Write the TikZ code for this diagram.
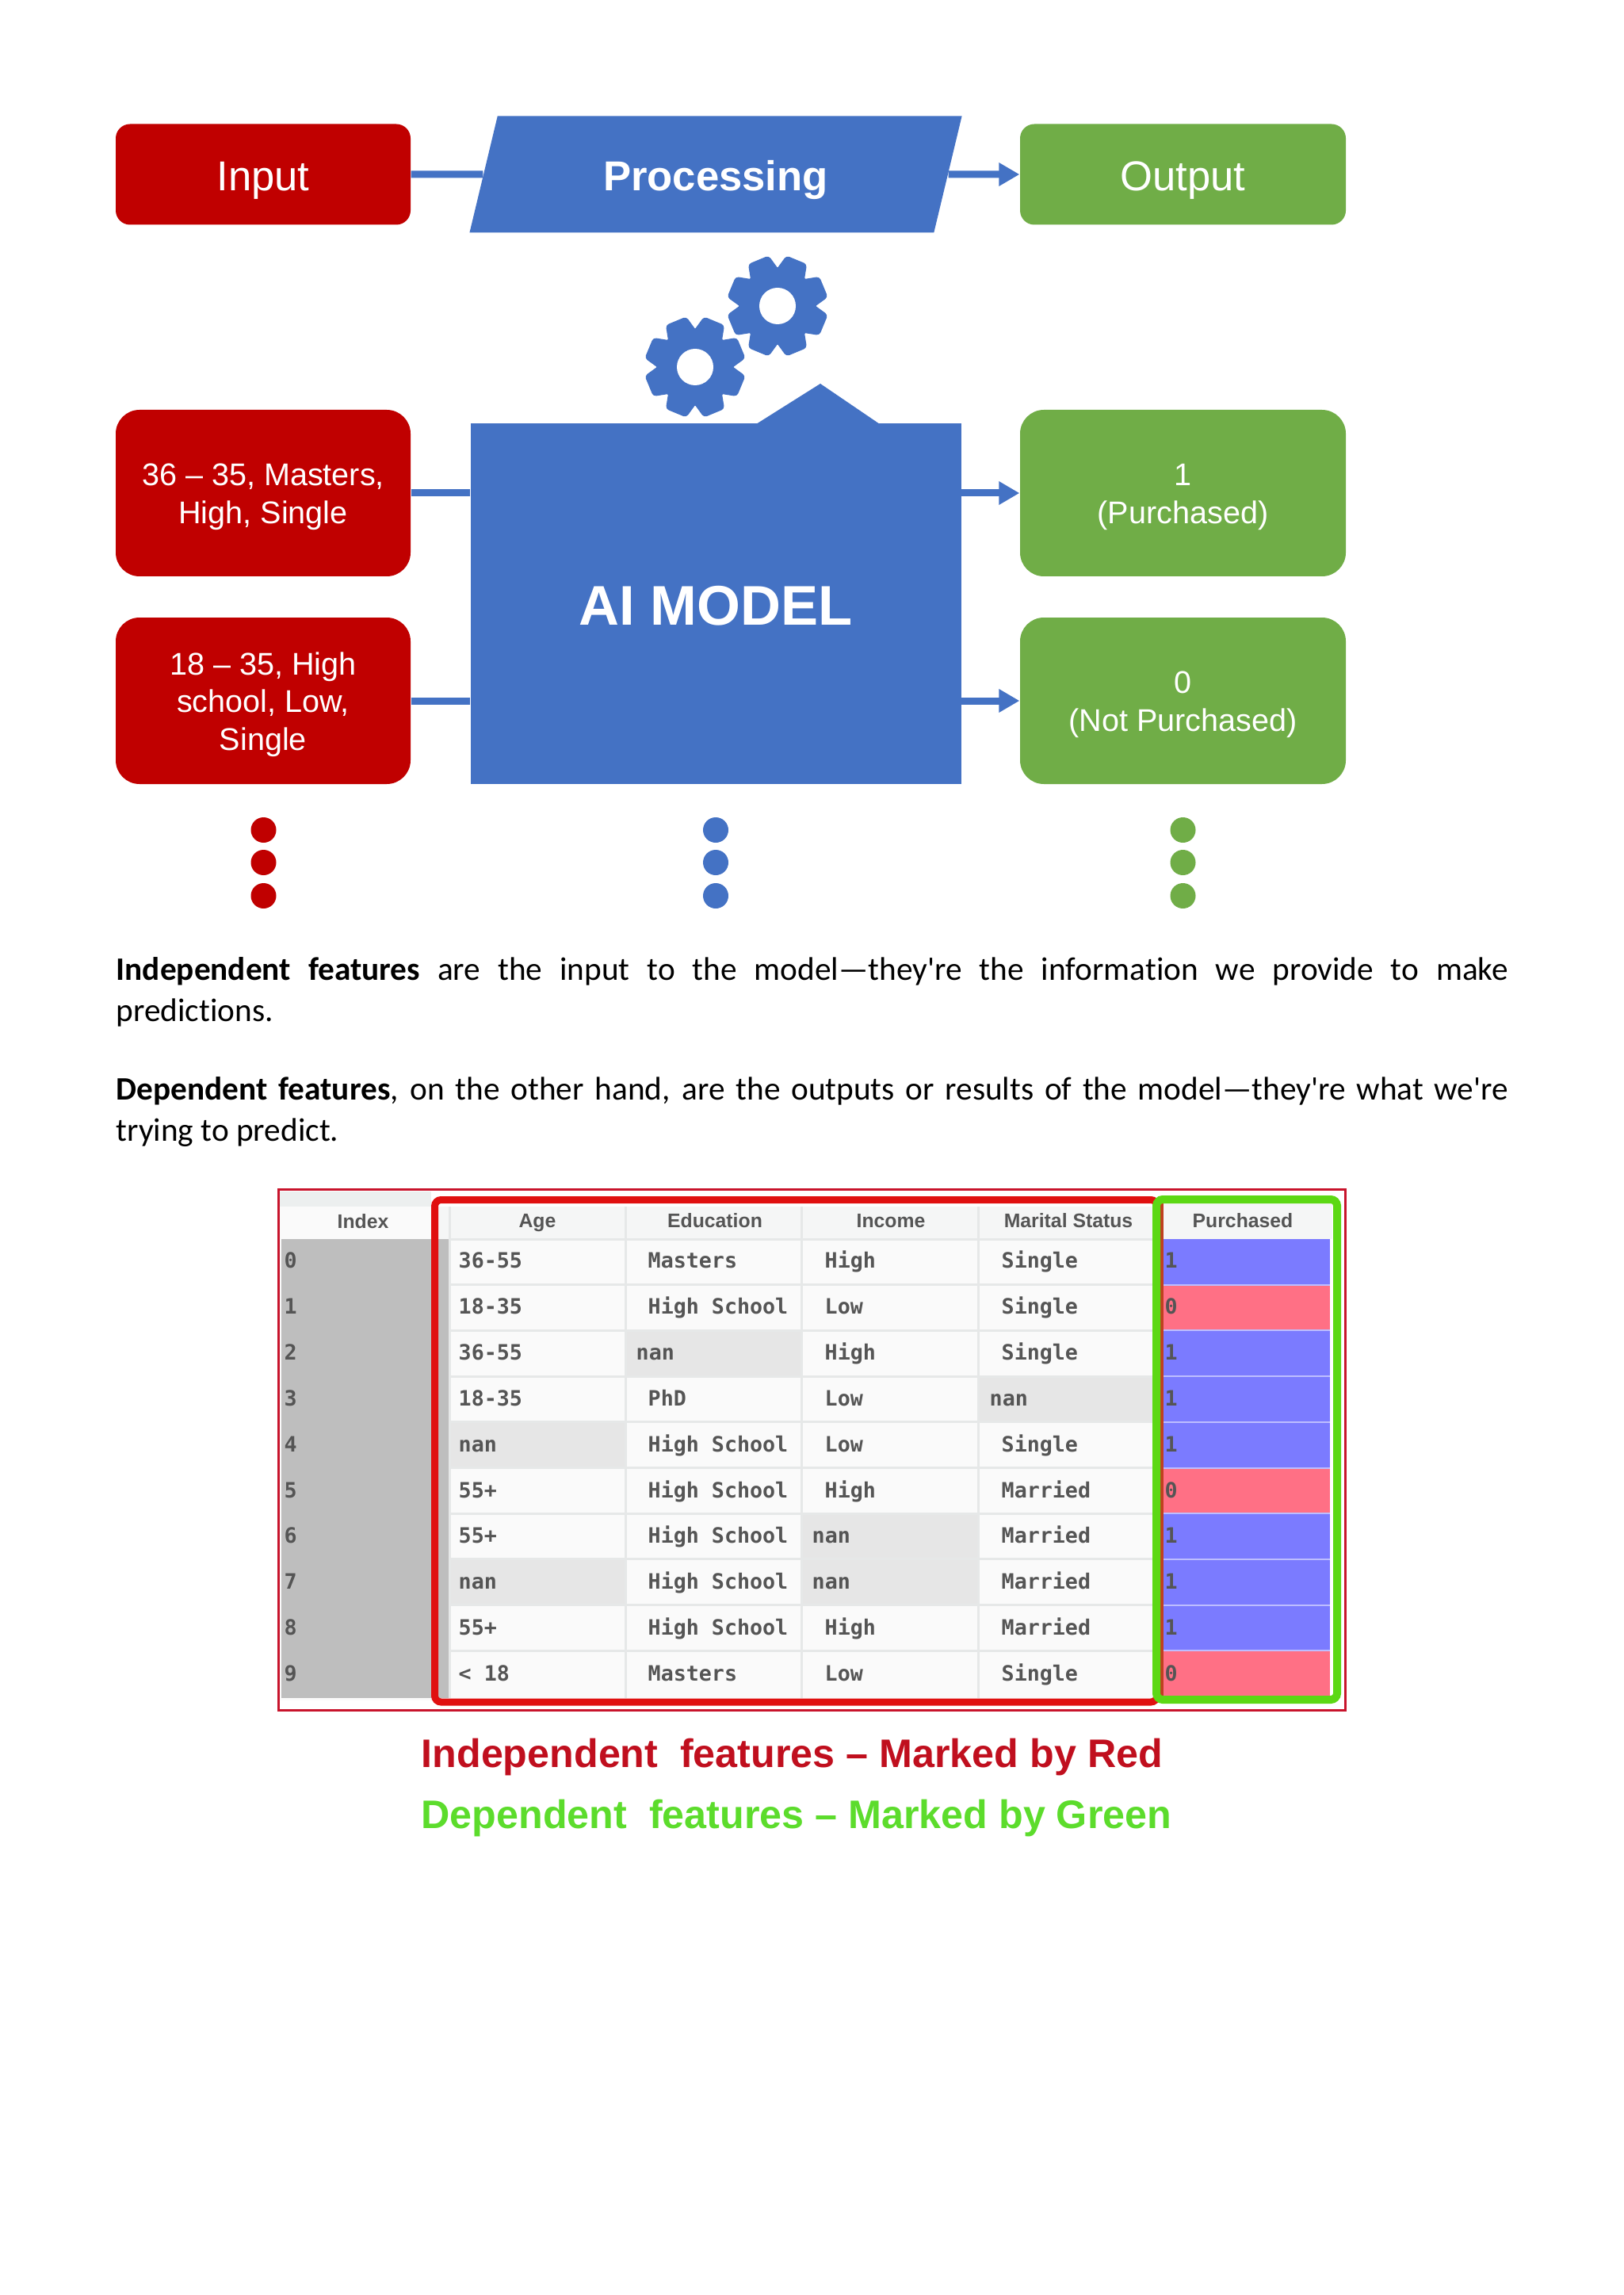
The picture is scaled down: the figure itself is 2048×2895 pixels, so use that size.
\documentclass[tikz,border=0pt]{standalone}
\usepackage{fontspec}
\usetikzlibrary{arrows.meta}
\usetikzlibrary{shapes.geometric}
\setmainfont{Carlito}
\newfontfamily\bodyfont{Carlito}[Ligatures=NoCommon]
\newfontfamily\boxfont{Liberation Sans}
\newfontfamily\cellfont{DejaVu Sans Mono}
\newcommand{\pxu}{0.2906pt}
\newcommand{\rowdrop}{\rule{0pt}{10.9pt}}
\definecolor{inred}{HTML}{C00000}
\definecolor{procblue}{HTML}{4472C4}
\definecolor{outgreen}{HTML}{70AD47}
\definecolor{framered}{HTML}{C8142C}
\definecolor{markred}{HTML}{E01010}
\definecolor{markgreen}{HTML}{5CD814}
\definecolor{striped}{HTML}{C04020}
\definecolor{capred}{HTML}{C00F1E}
\definecolor{capgreen}{HTML}{5CDC2C}
\definecolor{celltext}{HTML}{555555}
\definecolor{cellline}{HTML}{E6E8E8}
\definecolor{cellback}{HTML}{FAFAFA}
\definecolor{headback}{HTML}{F5F6F6}
\definecolor{bandgray}{HTML}{ECEFEF}
\definecolor{indexgray}{HTML}{BEBEBE}
\definecolor{nangray}{HTML}{E6E6E6}
\definecolor{pur1}{HTML}{7B7BFF}
\definecolor{pur0}{HTML}{FF7085}
\tikzset{
    basebox/.style={rounded corners=#1*\pxu, inner sep=0pt, text=white, align=center, font=\boxfont\fontsize{11.5}{13.8}\selectfont},
    headdrop/.style={execute at begin node={\rule{0pt}{15.2pt}}},
    headin/.style={basebox=18, headdrop, fill=inred, minimum width=372*\pxu, minimum height=127*\pxu, font=\boxfont\fontsize{15.3}{18}\selectfont},
    headout/.style={basebox=18, headdrop, fill=outgreen, minimum width=411*\pxu, minimum height=127*\pxu, font=\boxfont\fontsize{15.3}{18}\selectfont},
    rowin/.style={basebox=30, fill=inred, minimum width=372*\pxu, minimum height=210*\pxu},
    rowout/.style={basebox=30, fill=outgreen, minimum width=411*\pxu, minimum height=210*\pxu},
    link/.style={draw=procblue, line width=9*\pxu},
    linkarrow/.style={link, -{Triangle[length=26*\pxu,width=28*\pxu]}},
    dot/.style={circle, inner sep=0pt, minimum size=32*\pxu},
    bodytext/.style={anchor=north west, inner sep=0pt, text width=510.4pt, align=justify, font=\bodyfont\fontsize{12}{15}\selectfont},
    cell/.style={anchor=base west, inner sep=0pt, text=celltext, font=\cellfont\bfseries\fontsize{7.75}{9}\selectfont},
    headcell/.style={anchor=base, inner sep=0pt, text=celltext, font=\boxfont\bfseries\fontsize{7.2}{9}\selectfont},
    caption/.style={anchor=west, inner sep=0pt, font=\boxfont\bfseries\fontsize{14.6}{17}\selectfont},
    cog/.pic={
        \fill[procblue] (0,0) circle[radius=49];
        \foreach \a in {22.5,67.5,...,337.5}
            \fill[procblue, rotate=\a, rounded corners=4*\pxu] (-20,38) -- (-14,63) -- (14,63) -- (20,38) -- cycle;
        \fill[white] (0,0) circle[radius=23];
    }
}
\begin{document}
\begin{tikzpicture}[x=\pxu, y=-\pxu]
    \useasboundingbox (0,0) rectangle (2048,2895);
    \node[headin] (input) at (332,220) {Input};
    \node[trapezium, trapezium stretches=true, trapezium left angle=74, trapezium right angle=106, fill=procblue, inner sep=0pt, minimum width=624*\pxu, minimum height=147*\pxu, text=white, font=\boxfont\bfseries\fontsize{15.3}{18}\selectfont, headdrop] (processing) at (903,220) {Processing};
    \node[headout] (output) at (1492.5,220) {Output};
    \draw[link] (input) -- (processing);
    \draw[linkarrow] (processing) -- (output);
    \pic at (877,463) {cog};
    \pic at (981,386) {cog};
    \node[fill=procblue, inner sep=0pt, minimum width=619*\pxu, minimum height=455*\pxu, text=white, font=\boxfont\bfseries\fontsize{20.5}{24}\selectfont, execute at begin node={\rule{0pt}{16pt}}] (model) at (903,761.5) {AI MODEL};
    \fill[procblue] (954,535) -- (1035,484) -- (1110,535) -- cycle;
    \node[rowin] (agehigh) at (332,622) {\rowdrop 36 – 35, Masters,\\High, Single};
    \node[rowin] (agelow) at (332,884) {\rowdrop 18 – 35, High\\school, Low,\\Single};
    \node[rowout] (bought) at (1492.5,622) {\rowdrop 1\\(Purchased)};
    \node[rowout] (notbought) at (1492.5,884) {\rowdrop 0\\(Not Purchased)};
    \draw[link] (agehigh) -- (agehigh -| model.west);
    \draw[link] (agelow) -- (agelow -| model.west);
    \draw[linkarrow] (bought -| model.east) -- (bought);
    \draw[linkarrow] (notbought -| model.east) -- (notbought);
    \foreach \colr/\cx in {inred/332.5,procblue/903,outgreen/1492.5}
        \foreach \cy in {1047,1088,1130}
            \node[dot, fill=\colr] (dot\cx-\cy) at (\cx,\cy) {};
    \node[bodytext] (indep) at (146,1207) {\textbf{Independent features} are the input to the model—they're the information we provide to make\linebreak predictions.};
    \node[bodytext] (dep) at (146,1358) {\textbf{Dependent features}, on the other hand, are the outputs or results of the model—they're what we're\linebreak trying to predict.};
    \fill[cellback] (353,1522) rectangle (1463,2145);
    \fill[bandgray] (353,1503) rectangle (544,1522);
    \fill[headback] (553,1522) rectangle (1463,1563);
    \fill[headback] (1463,1518) rectangle (1681,1563);
    \fill[indexgray] (355,1563) rectangle (567,2142);
    \foreach \j/\pur in {0/1,1/0,2/1,3/1,4/1,5/0,6/1,7/1,8/1,9/0}
        \fill[pur\pur] (1468,{1563+57.7*\j}) rectangle (1678,{1620.7+57.7*\j});
    \foreach \cx/\j in {789/2,567/4,1011/6,567/7,1011/7}
        \fill[nangray] (\cx,{1563+57.7*\j}) rectangle ({\cx+222},{1620.7+57.7*\j});
    \fill[nangray] (1234,{1563+57.7*3}) rectangle (1455,{1620.7+57.7*3});
    \foreach \cx in {567,789,1011,1234}
        \draw[cellline, line width=3*\pxu] (\cx,1522) -- (\cx,2142);
    \foreach \j in {0,...,9}
        \draw[cellline, line width=3*\pxu] (567,{1563+57.7*\j}) -- (1455,{1563+57.7*\j});
    \foreach \j in {1,...,9}
        \draw[white!50!pur1, line width=2*\pxu] (1468,{1563+57.7*\j}) -- (1678,{1563+57.7*\j});
    \node[headcell] (hindex) at (458,1549) {Index};
    \node[headcell] (hage) at (678,1548) {Age};
    \node[headcell] (hedu) at (902,1548) {Education};
    \node[headcell] (hinc) at (1124,1548) {Income};
    \node[headcell] (hmar) at (1348,1548) {Marital Status};
    \node[headcell] (hpur) at (1568,1548) {Purchased};
    \foreach \j/\age/\edu/\inc/\mar/\pur in {
        0/36-55/Masters/High/Single/1,
        1/18-35/High School/Low/Single/0,
        2/36-55/ /High/Single/1,
        3/18-35/PhD/Low/ /1,
        4/ /High School/Low/Single/1,
        5/55+/High School/High/Married/0,
        6/55+/High School/ /Married/1,
        7/ /High School/ /Married/1,
        8/55+/High School/High/Married/1,
        9/< 18/Masters/Low/Single/0}
    {
        \node[cell] (idx\j) at (358,{1599.5+57.9*\j}) {\j};
        \node[cell] (age\j) at (578,{1599.5+57.9*\j}) {\age};
        \node[cell] (edu\j) at (817,{1599.5+57.9*\j}) {\edu};
        \node[cell] (inc\j) at (1040,{1599.5+57.9*\j}) {\inc};
        \node[cell] (mar\j) at (1263,{1599.5+57.9*\j}) {\mar};
        \node[cell] (pur\j) at (1469,{1599.5+57.9*\j}) {\pur};
    }
    \foreach \cx/\j in {802/2,578/4,1024/6,578/7,1024/7,1248/3}
        \node[cell] (nan\cx-\j) at (\cx,{1599.5+57.9*\j}) {nan};
    \draw[framered, line width=3*\pxu] (351,1500) rectangle (1697,2157);
    \draw[markred, line width=9*\pxu, rounded corners=8*\pxu] (548.5,1513.5) rectangle (1460,2147);
    \draw[striped, line width=5*\pxu] (1465.5,1518) -- (1465.5,2139);
    \draw[markgreen, line width=10*\pxu, rounded corners=8*\pxu] (1459,1513) rectangle (1687,2144);
    \node[caption, text=capred] (capindep) at (531,2216.5) {Independent\ \ features – Marked by Red};
    \node[caption, text=capgreen] (capdep) at (531,2293.5) {Dependent\ \ features – Marked by Green};
\end{tikzpicture}
\end{document}
